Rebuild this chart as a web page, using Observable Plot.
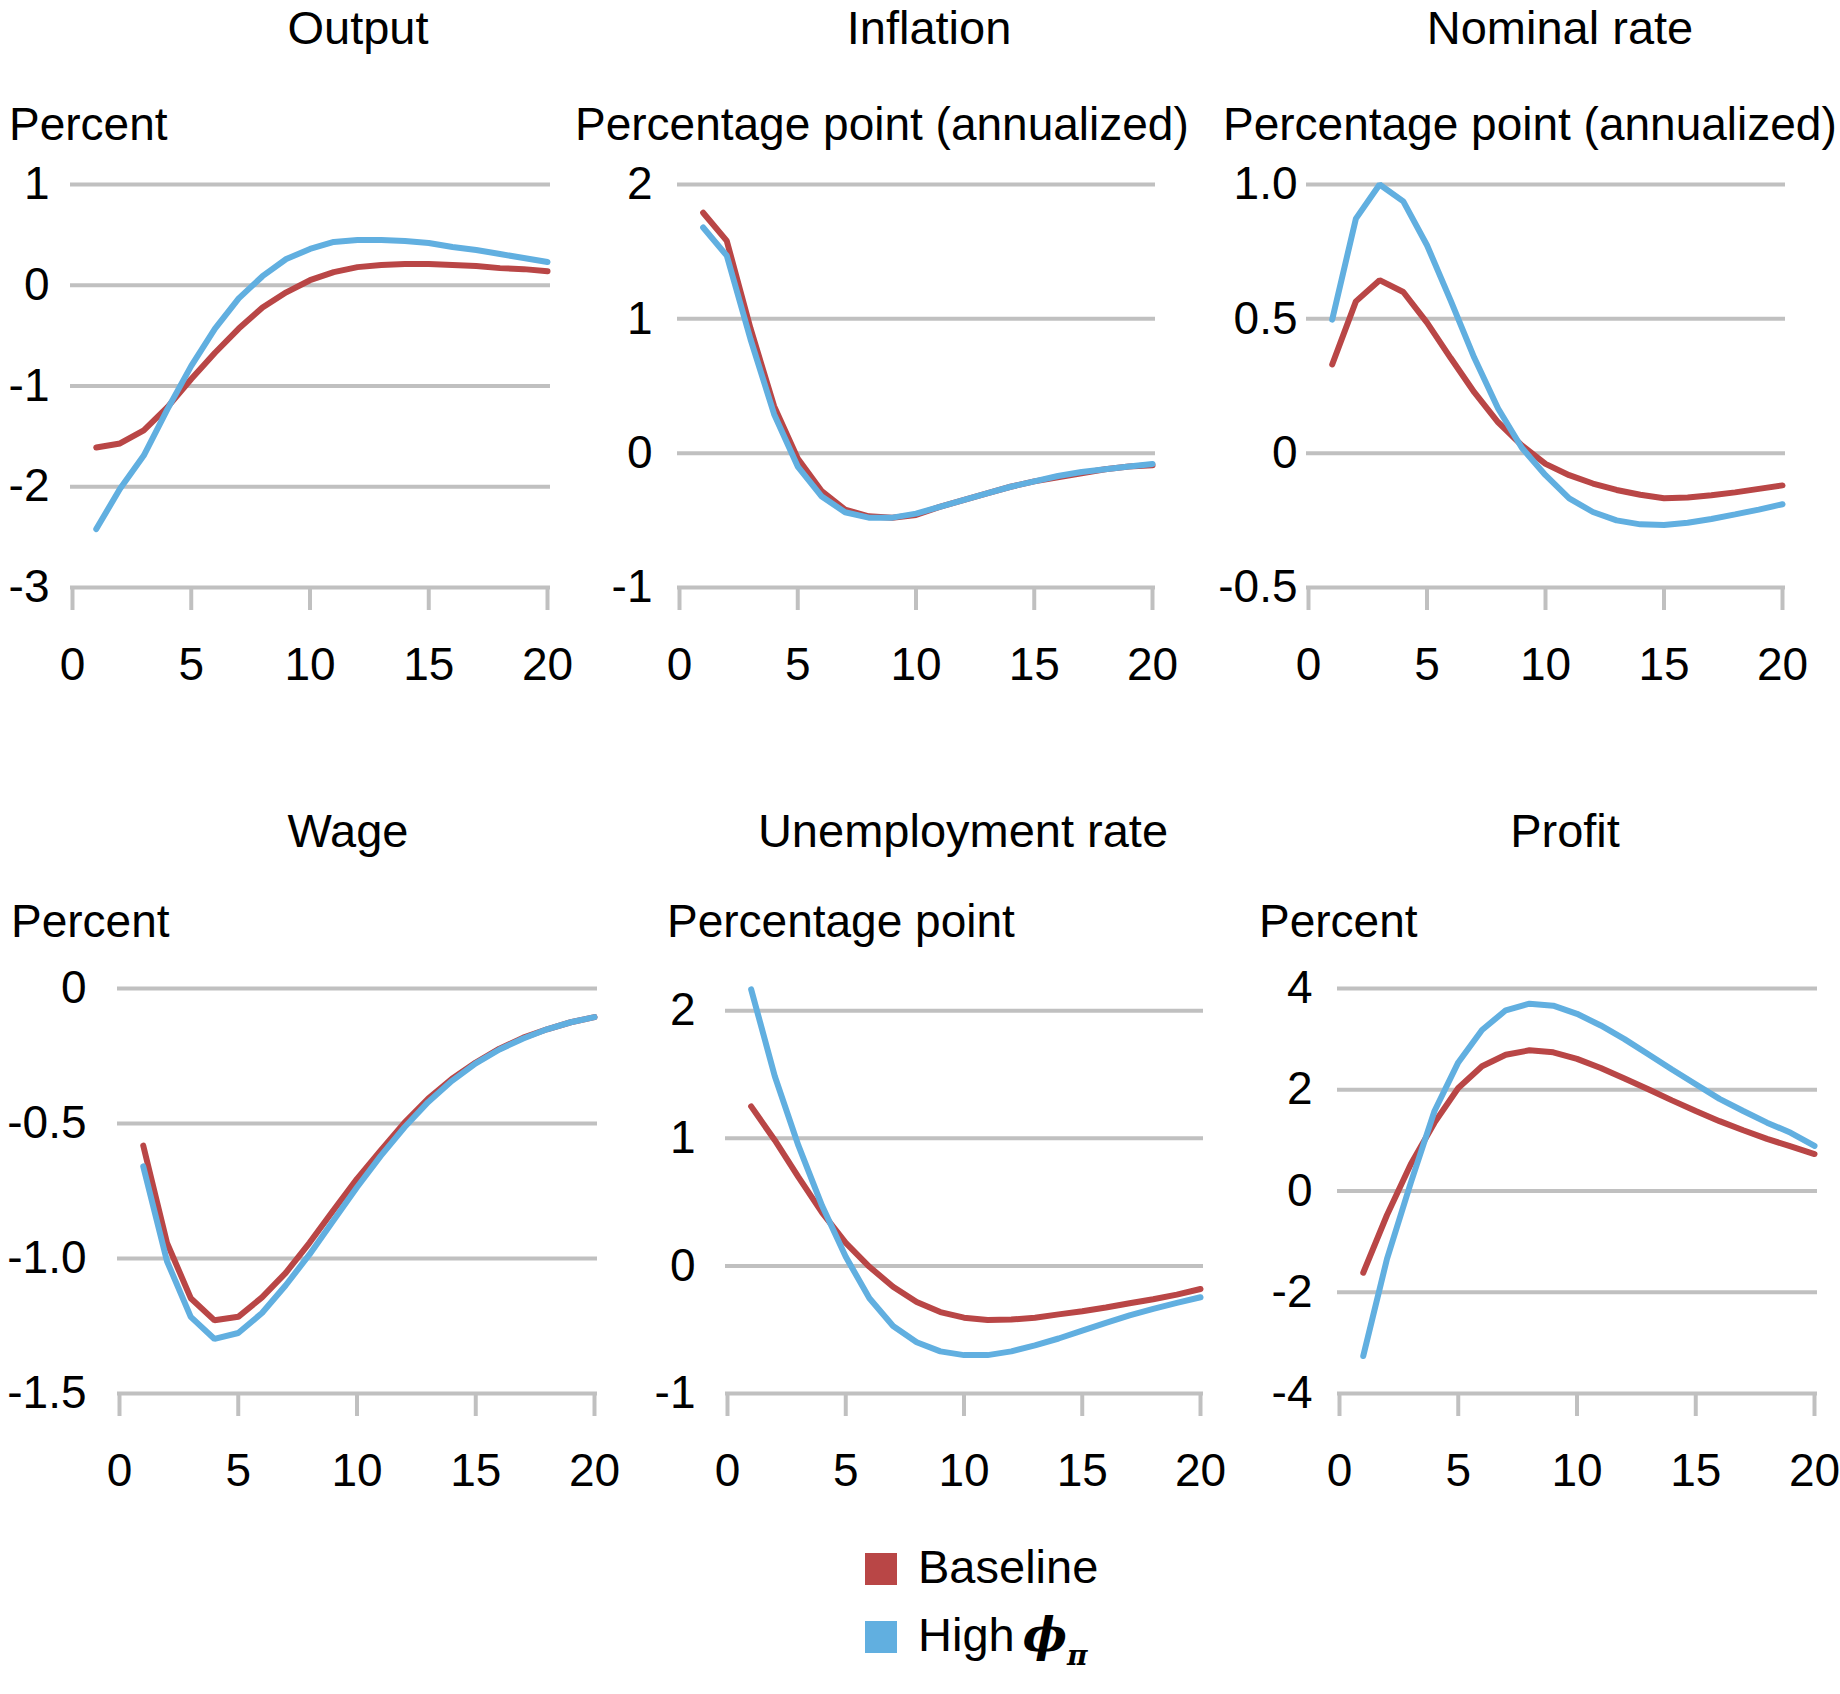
<!DOCTYPE html>
<html>
<head>
<meta charset="utf-8">
<script src="https://cdn.jsdelivr.net/npm/d3@7"></script>
<script src="https://cdn.jsdelivr.net/npm/@observablehq/plot@0.6"></script>
<style>
  html, body { margin: 0; padding: 0; background: #fff; }
  #root { position: relative; width: 1840px; height: 1694px; overflow: hidden; background: #fff;
          font-family: "Liberation Sans", Arial, Helvetica, sans-serif; color: #000; }
  .txt { position: absolute; white-space: nowrap; }
  .title { font-size: 47px; line-height: 47px; }
  .unit { font-size: 46px; line-height: 46px; }
  .leg { font-size: 47px; line-height: 47px; }
  .ctr { transform: translateX(-50%); }
  .panel { position: absolute; }
  .sw { position: absolute; width: 32px; height: 32px; }
  .greek { font-family: "DejaVu Serif", serif; font-weight: bold; font-style: italic; }
</style>
</head>
<body>
<div id="root"></div>
<script>
// ---------------- data ----------------
const periods = [1,2,3,4,5,6,7,8,9,10,11,12,13,14,15,16,17,18,19,20];
const xTicks = [0, 5, 10, 15, 20];
const seriesNames = ["Baseline", "High"];

const outputBaseline = [-1.61,-1.57,-1.44,-1.21,-0.93,-0.67,-0.43,-0.22,-0.07,0.05,0.13,0.18,0.20,0.21,0.21,0.20,0.19,0.17,0.16,0.14];
const outputHigh     = [-2.42,-2.02,-1.69,-1.23,-0.80,-0.43,-0.13,0.09,0.26,0.36,0.43,0.45,0.45,0.44,0.42,0.38,0.35,0.31,0.27,0.23];
const outputTicks = [-3, -2, -1, 0, 1];
const outputTickLabels = ["-3", "-2", "-1", "0", "1"];

const inflationBaseline = [1.79,1.58,0.93,0.35,-0.04,-0.28,-0.42,-0.47,-0.48,-0.46,-0.40,-0.35,-0.30,-0.25,-0.21,-0.18,-0.15,-0.12,-0.10,-0.09];
const inflationHigh     = [1.68,1.47,0.85,0.29,-0.10,-0.32,-0.44,-0.48,-0.48,-0.45,-0.40,-0.35,-0.30,-0.25,-0.21,-0.17,-0.14,-0.12,-0.10,-0.08];
const inflationTicks = [-1, 0, 1, 2];
const inflationTickLabels = ["-1", "0", "1", "2"];

const nominalBaseline = [0.33,0.565,0.644,0.60,0.486,0.354,0.226,0.115,0.029,-0.04,-0.082,-0.113,-0.137,-0.155,-0.168,-0.165,-0.157,-0.146,-0.133,-0.12];
const nominalHigh     = [0.497,0.873,1.0,0.937,0.774,0.568,0.354,0.166,0.02,-0.082,-0.168,-0.219,-0.25,-0.265,-0.267,-0.259,-0.245,-0.228,-0.21,-0.19];
const nominalTicks = [-0.5, 0, 0.5, 1.0];
const nominalTickLabels = ["-0.5", "0", "0.5", "1.0"];

const wageBaseline = [-0.582,-0.942,-1.147,-1.229,-1.216,-1.144,-1.053,-0.942,-0.822,-0.705,-0.60,-0.497,-0.408,-0.334,-0.274,-0.223,-0.182,-0.151,-0.125,-0.106];
const wageHigh     = [-0.659,-1.01,-1.216,-1.298,-1.276,-1.202,-1.099,-0.985,-0.86,-0.736,-0.62,-0.514,-0.42,-0.342,-0.277,-0.226,-0.185,-0.151,-0.125,-0.106];
const wageTicks = [-1.5, -1.0, -0.5, 0];
const wageTickLabels = ["-1.5", "-1.0", "-0.5", "0"];

const unempBaseline = [1.25,0.985,0.696,0.417,0.181,-0.007,-0.163,-0.283,-0.362,-0.406,-0.424,-0.42,-0.406,-0.38,-0.355,-0.326,-0.293,-0.261,-0.225,-0.181];
const unempHigh     = [2.167,1.486,0.942,0.471,0.072,-0.254,-0.471,-0.598,-0.67,-0.699,-0.699,-0.67,-0.623,-0.569,-0.507,-0.446,-0.388,-0.337,-0.29,-0.246];
const unempTicks = [-1, 0, 1, 2];
const unempTickLabels = ["-1", "0", "1", "2"];

const profitBaseline = [-1.615,-0.474,0.529,1.35,2.035,2.464,2.69,2.78,2.74,2.61,2.43,2.22,2.01,1.79,1.58,1.38,1.20,1.03,0.88,0.73];
const profitHigh     = [-3.26,-1.34,0.16,1.58,2.54,3.18,3.57,3.70,3.66,3.50,3.27,3.0,2.70,2.40,2.11,1.82,1.58,1.35,1.15,0.89];
const profitTicks = [-4, -2, 0, 2, 4];
const profitTickLabels = ["-4", "-2", "0", "2", "4"];

const titles = ["Output", "Inflation", "Nominal rate", "Wage", "Unemployment rate", "Profit"];
const units = ["Percent", "Percentage point (annualized)", "Percentage point (annualized)", "Percent", "Percentage point", "Percent"];

// ---------------- style / layout ----------------
const RED = "#b94646";
const BLUE = "#61afe0";
const GRID = "#c0c0c0";
const FONT = "'Liberation Sans', Arial, Helvetica, sans-serif";

const panels = [
  {title: titles[0], unit: units[0], base: outputBaseline, high: outputHigh, ticks: outputTicks, labels: outputTickLabels, ymax: 1,
   left: 0, top: 150, mL: 72, plotW: 475, mT: 34, plotH: 403, pad: 23, titleX: 358, titleTop: 4, unitX: 9, unitTop: 101},
  {title: titles[1], unit: units[1], base: inflationBaseline, high: inflationHigh, ticks: inflationTicks, labels: inflationTickLabels, ymax: 2,
   left: 599, top: 150, mL: 80, plotW: 473, mT: 34, plotH: 403, pad: 27, titleX: 929, titleTop: 4, unitX: 575, unitTop: 101},
  {title: titles[2], unit: units[2], base: nominalBaseline, high: nominalHigh, ticks: nominalTicks, labels: nominalTickLabels, ymax: 1.0,
   left: 1213, top: 150, mL: 95, plotW: 474, mT: 34, plotH: 403, pad: 11, titleX: 1560, titleTop: 4, unitX: 1223, unitTop: 101},
  {title: titles[3], unit: units[3], base: wageBaseline, high: wageHigh, ticks: wageTicks, labels: wageTickLabels, ymax: 0,
   left: 0, top: 950, mL: 119, plotW: 475, mT: 38, plotH: 405, pad: 33, titleX: 348, titleTop: 807, unitX: 11, unitTop: 898},
  {title: titles[4], unit: units[4], base: unempBaseline, high: unempHigh, ticks: unempTicks, labels: unempTickLabels, ymax: 2.174,
   left: 637, top: 950, mL: 90, plotW: 473, mT: 38, plotH: 405, pad: 32, titleX: 963, titleTop: 807, unitX: 667, unitTop: 898},
  {title: titles[5], unit: units[5], base: profitBaseline, high: profitHigh, ticks: profitTicks, labels: profitTickLabels, ymax: 4,
   left: 1249, top: 950, mL: 90, plotW: 475, mT: 38, plotH: 405, pad: 27, titleX: 1565, titleTop: 807, unitX: 1259, unitTop: 898}
];

const root = document.getElementById("root");

function addText(text, cls, x, top, center) {
  const d = document.createElement("div");
  d.className = "txt " + cls + (center ? " ctr" : "");
  d.style.left = x + "px";
  d.style.top = top + "px";
  d.textContent = text;
  root.appendChild(d);
  return d;
}

for (const p of panels) {
  addText(p.title, "title", p.titleX, p.titleTop, true);
  addText(p.unit, "unit", p.unitX, p.unitTop, false);

  const mR = 16, mB = 110;
  const ymin = p.ticks[0];
  const chart = Plot.plot({
    width: p.mL + p.plotW + mR,
    height: p.mT + p.plotH + mB,
    marginLeft: p.mL, marginRight: mR, marginTop: p.mT, marginBottom: mB,
    style: {fontFamily: FONT, fontSize: "46px", color: "#000", background: "transparent", overflow: "visible"},
    x: {domain: [0, 20]},
    y: {domain: [ymin, p.ymax]},
    marks: [
      Plot.ruleY(p.ticks, {stroke: GRID, strokeWidth: 4, insetLeft: -2, insetRight: -3}),
      Plot.axisX(xTicks, {tickSize: 23, tickPadding: 37, stroke: GRID, strokeWidth: 4, fill: "#000", label: null, tickFormat: d => String(d)}),
      Plot.axisY(p.ticks, {tickSize: 0, tickPadding: p.pad, fill: "#000", label: null,
                 tickFormat: d => p.labels[p.ticks.indexOf(d)]}),
      Plot.lineY(p.base, {x: periods, stroke: RED, strokeWidth: 6, strokeLinejoin: "miter"}),
      Plot.lineY(p.high, {x: periods, stroke: BLUE, strokeWidth: 6, strokeLinejoin: "miter"})
    ]
  });
  chart.classList.add("panel");
  chart.style.left = p.left + "px";
  chart.style.top = p.top + "px";
  root.appendChild(chart);
}

// ---------------- legend ----------------
const legendColors = [RED, BLUE];
const legendTops = [1553, 1621];
legendColors.forEach((c, i) => {
  const s = document.createElement("div");
  s.className = "sw";
  s.style.left = "865px";
  s.style.top = legendTops[i] + "px";
  s.style.background = c;
  root.appendChild(s);
});
addText(seriesNames[0], "leg", 918, 1543, false);
const l2 = addText(seriesNames[1], "leg", 918, 1611, false);
const phi = document.createElement("span");
phi.className = "greek";
phi.style.marginLeft = "8px";
phi.textContent = "\u03D5";
const pi = document.createElement("span");
pi.className = "greek";
pi.style.fontSize = "28px";
pi.style.position = "relative";
pi.style.top = "14px";
pi.textContent = "\u03C0";
l2.appendChild(phi);
l2.appendChild(pi);
</script>
</body>
</html>
